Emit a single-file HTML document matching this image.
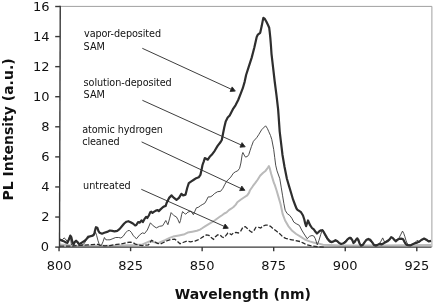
<!DOCTYPE html>
<html><head><meta charset="utf-8"><style>
html,body{margin:0;padding:0;background:#fff;}
body{width:433px;height:304px;overflow:hidden;position:relative;}
svg{position:absolute;left:0;top:0;}
text{font-family:"DejaVu Sans","Liberation Sans",sans-serif;fill:#111;}
.tk text{font-size:13px;}
.lg text{font-size:9.7px;}
.ttl{font-size:14px;font-weight:bold;}
</style></head><body>
<svg width="433" height="304" viewBox="0 0 433 304">
<g fill="none" stroke="#a0a0a0" stroke-width="1.0">
<polyline points="60.5,6.4 431.9,6.4 431.9,247.1"/>
</g>
<polyline points="59.8,244.5 70,245.3 80,245.7 95,245.8 110,245.7 120,245.4 135,245 142.5,244.4 150,241.2 154.6,242.3 158.1,243.2 161.5,241.7 165,240.2 169.6,237.9 173.1,236.6 178.9,235.4 184.6,234.2 187.7,232.6 192.3,231.7 196.9,230.8 200,229.6 202.5,228 205,226.3 209.9,223.4 214.9,220.3 219.7,216.8 222,215.2 224.3,213.5 226.6,212.4 228.9,210.1 231.2,208.7 233.5,207 235.8,204.6 237.3,202.3 240.6,199.8 243.9,197.5 247.2,195.4 249.1,192.6 250,190.2 252.8,186.2 255.5,182.7 257.8,179.5 260.1,175.8 262.9,173 265.7,170.7 268,167.5 268.9,166.1 269.8,168.4 271.2,174 272.6,178.6 274,183.2 274.7,184.6 276.6,190.5 278.6,197.4 280.6,204.3 282.7,214.2 285.1,220.5 288.3,226.1 292.2,230.8 296.2,234 300.1,236.3 304.9,239.5 309.6,241.4 314.3,242.7 318,243.4 323,244.7 340,245.5 380,245.5 431,245" fill="none" stroke="#bababa" stroke-width="2.0" stroke-linejoin="round"/>
<polyline points="59.8,246.2 72,246.2 79.7,245.4 84,245.2 88,244.9 92,244.6 96,244.3 98,244.3 100.2,245.2 105,245.8 110,245.6 113.5,244.8 116.9,244.4 120.4,244.1 123.9,243.3 127.3,242.5 130.2,242.1 133.1,242.7 135.4,244.1 138.9,245 142.3,245.6 148.5,244.8 151.5,240.3 154.5,241.8 157.5,243.3 160.5,244 163.5,242.5 166.5,241 171,239.5 174.8,239.2 177,241 180,243.7 183,242.5 186.8,241 190.6,241.8 195,241.1 197.9,239.9 200.8,238.2 203.7,236.4 206.5,234.9 208.9,235.3 211.2,237.6 213.5,239.3 215.2,237 217.5,234.9 219.8,234.7 222.1,237 223.9,237.6 225.6,235.9 227.9,233 229.6,233.5 231.4,234.7 233.7,233 236,232.4 238.3,233 240.6,231.2 242.9,227.2 245.3,226.6 247.6,228.7 249.7,230.8 251.8,232.2 253.9,230.8 255.9,227.3 258.7,227.3 260.8,228 262.9,225.9 265.6,225.2 268.4,225.2 270.5,226.3 273.2,228.7 276,230.8 278.8,232.9 280.9,234.9 282.9,237 285.7,238.4 288.5,239.1 291.9,239.8 295.4,240.5 300,241.5 303.5,243.2 306.9,244.9 312,245.9 318,246.8 324,247.1" fill="none" stroke="#2a2a2a" stroke-width="1.3" stroke-dasharray="4.4 1.8"/>
<polyline points="59.8,238.9 62.3,239.9 64,237.9 65.4,238.9 67.2,241.6 69.5,237 70.3,235.5 71.4,244.9 73,243 75.1,240.7 76.5,241.5 78.3,244.4 80.2,245.3 82,244.9 83.9,243.9 85.7,241.2 87.5,236.1 89.4,236.1 91.2,235.6 93.1,234.7 94.9,233.8 95.6,232.3 96.7,235.7 97.9,240.3 99.6,245.5 101.3,245.5 103.1,241.5 104.4,237.5 105.9,239.8 107.7,239.8 110,239.8 112.9,238.6 115.7,237.5 118.6,237.5 120.9,238 123.2,236.3 125.5,232.9 127.8,230.6 129.6,230.6 131.3,232.3 133,235.2 135,237.5 136.6,238.7 139.4,235.2 142.3,232.9 144.6,233.5 147.3,230 149,226.1 150.4,222.8 153.2,225.8 156.3,227.9 159.5,226.3 162.6,225.8 164.2,223.2 165.8,220.5 166.8,222.6 167.9,224.7 169.5,218.9 171.1,212.6 172.6,214.2 174.2,215.8 176.3,216.8 177.9,219.5 179.5,223.2 180.5,220.5 181.6,214.7 182.6,211.6 184.2,213.2 185.8,214.2 187.9,212.1 190.9,211.2 193.4,214.7 194.9,211.2 196.4,207.8 198.3,207.3 200.3,205.8 202.8,204.3 204.7,203.3 206.2,200.9 208.2,196.9 210.2,196.9 212.1,195.9 214.6,193.5 217.6,191.7 220.6,191.3 222.9,188.3 224.9,184.3 226.8,181.1 228.8,179.1 230.8,177.1 232.1,175.1 233.4,173.2 235.4,171.8 237.6,170.9 239.6,168.3 240.9,163 242.2,154.5 242.9,152.5 244.2,155.1 245.5,157.1 247.5,156.4 248.8,154.5 250.1,150.5 251.4,146.6 253.4,141.3 256.7,137.7 258.7,134.7 261.6,129.8 265.6,125.8 267.3,128.3 268.8,131.7 270.5,135.5 271.8,139.6 273.7,149.4 274.7,157.3 275.7,165.2 277,170.8 279.8,178.7 281.3,187.9 282.6,195.8 283.9,203.7 285.2,210.3 287.2,213.6 289.8,215.5 291.8,218.2 293.8,222.1 296.2,223.7 299.3,225.3 301.7,230 304.1,234 307.2,238.7 309.6,236.3 312,235.5 313.8,236 315.3,238.7 317.3,244.9 319,240.3 320.7,234.6 322.4,229.4 323.6,231.1 325.3,235.7 327.6,240.3 330,242.5 333,242 336,240.5 339,243 342,244 345,241 349,238.5 351.5,239.5 353.3,242.5 356.7,238.5 360,244.5 362.5,245 365,241.5 368,239.5 371,242 374,245 377,245 380,243 382.7,237.9 384.5,242 387.9,240 390.8,237.5 393.1,238.5 395.4,240 398.7,238.6 401,234.1 402.5,231.1 403.7,233.3 404.8,236.4 405.9,240.2 407,243.2 408.5,244.5 411,245.5 414,243.5 417.2,240.3 419.5,242 422,240 424.5,239 427,241 431,240.5" fill="none" stroke="#383838" stroke-width="0.9" stroke-linejoin="round"/>
<polyline points="59.8,239.8 62.2,240.7 64.5,241.6 66,242.5 67.4,242.8 68.9,239.6 70.3,235.6 71.4,237.4 72.5,242.5 73.6,244.6 74.7,242.1 76.1,240.7 77.6,242.1 79,243.9 80.5,243.5 82.6,242.1 84.8,240.7 87,238.5 88.4,237 90.6,236.3 92.8,235.6 93.8,234.9 94.6,232.3 95.3,229.4 96,227.2 97.3,227.7 98.5,231.1 99.7,232.8 102,233.7 104.3,232.8 107.1,231.9 109.9,230.5 112.2,230.9 114.5,231.4 117.2,230.9 119.5,229.1 121.9,226.3 124.2,223.5 126.5,221.7 128.3,221.2 130.6,222.2 132.9,223.5 135.2,225.5 136.3,225 138.1,222.1 139.8,222.6 141.5,220.3 142.9,222.1 144.4,219.2 146.1,216.9 147.3,218 149,215.2 150.2,212.3 151.3,211.7 152.5,212.9 154.2,211.7 155.9,210.6 157.6,210 158.8,211.1 160.5,209.4 162.3,207.7 164,206.5 165.7,205.9 166.6,203 169.1,197.9 171.6,195.4 174,197.9 176.5,199.9 179,197.9 181.4,193.8 183.1,195.4 185.6,194.6 187.2,188 188.8,183.1 191.3,181.4 193.8,179.8 196.2,178.2 198.7,177.3 200.4,174.9 201.5,169.9 202.5,165 203.8,161.3 204.8,158.1 206.2,158.7 207.8,159.7 209.7,156.8 211.7,154.8 214.7,150.8 217.6,145.9 220.6,142 221.8,140 223.1,133.3 224.3,127.3 225.7,121.4 227.7,117.5 229.7,115.5 231.6,111.8 232.9,109.2 235.5,105.3 238.2,100 240.8,93.4 242.8,88.2 244.7,81.6 246.1,75 248.7,66.9 251.7,57.6 254.4,47.3 256.7,36.9 257.9,34.6 260.2,32.8 261.7,26.1 262.8,20.4 263.4,17.8 264.6,18.6 266.3,21.5 268,25 269.2,27.8 269.7,31.9 270.3,37.6 270.9,45 271.5,53.8 273.1,67.6 274.7,81.5 276.5,95.3 278.1,109.1 278.6,115.8 279.7,131.6 281.6,147.4 282.5,155 284.5,166.8 286.9,178.7 289.2,186.6 291.2,193.2 293.1,199.7 295.1,205 296.5,208.5 297.5,209.8 299.1,210.9 301,212.2 303,215.5 304.3,219.5 305.2,223.5 306.1,226.1 308,220.5 310.1,225.2 312,228 313.8,229.4 315.7,232.1 317,233.5 318.9,231.7 320.7,230.3 322.6,230.3 324,232.6 325.3,234.9 327.2,238.1 329,240.4 330.5,241.6 331.9,242.1 333.7,241.2 335.5,240.2 337.4,241.2 339.2,243 341.1,243.9 342.9,243.5 344.8,242.5 346.2,241.2 347.5,239.3 349.4,237.9 350.8,237.9 352.2,239.8 353.5,243 354.9,241.6 356.3,239.3 357.3,238.3 358.4,239.8 359.6,243.5 361,245.6 362.8,244.9 364.7,242.1 366.5,239.8 368.4,238.9 370.2,239.8 372.1,242.1 373.9,244.9 375.8,245.6 377.6,244.9 379.5,243.9 381.3,244.4 382.8,243.9 385.1,242.4 387.4,241.3 389.6,239.4 391.2,237.1 392.7,237.9 394.2,239.8 395.7,241.3 397.2,240.2 398.7,239 401,238.6 402.9,239 404,240.9 405.2,243.2 406.3,244.7 408,245.1 410.3,245.4 412.6,244.3 414.9,243.2 417.2,242.6 419.5,241.5 421.8,239.7 424.1,238.6 426.4,239.7 428.7,241.5 431,240.9" fill="none" stroke="#2e2e2e" stroke-width="2.2" stroke-linejoin="round"/>
<g stroke="#383838" stroke-width="1.4" fill="none">
<line x1="60.25" y1="5.8" x2="59.5" y2="247.8"/>
<line x1="59" y1="247.1" x2="431.5" y2="247.1"/>
<line x1="55.2" y1="247.10" x2="60" y2="247.10"/><line x1="55.2" y1="217.03" x2="60" y2="217.03"/><line x1="55.2" y1="186.95" x2="60" y2="186.95"/><line x1="55.2" y1="156.88" x2="60" y2="156.88"/><line x1="55.2" y1="126.80" x2="60" y2="126.80"/><line x1="55.2" y1="96.72" x2="60" y2="96.72"/><line x1="55.2" y1="66.65" x2="60" y2="66.65"/><line x1="55.2" y1="36.57" x2="60" y2="36.57"/><line x1="55.2" y1="6.50" x2="60" y2="6.50"/><line x1="59.05" y1="247.1" x2="59.05" y2="251.2"/><line x1="130.60" y1="247.1" x2="130.60" y2="251.2"/><line x1="202.15" y1="247.1" x2="202.15" y2="251.2"/><line x1="273.70" y1="247.1" x2="273.70" y2="251.2"/><line x1="345.25" y1="247.1" x2="345.25" y2="251.2"/><line x1="416.80" y1="247.1" x2="416.80" y2="251.2"/>
</g>
<g stroke="#333" stroke-width="0.95" fill="#1a1a1a">
<line x1="142.3" y1="48.3" x2="232.03" y2="89.59"/><polygon points="235.30,91.10 230.08,91.45 232.17,86.91"/><line x1="142.4" y1="100.3" x2="241.92" y2="145.32"/><polygon points="245.20,146.80 239.98,147.18 242.04,142.63"/><line x1="141.6" y1="141.9" x2="241.64" y2="188.77"/><polygon points="244.90,190.30 239.67,190.61 241.80,186.08"/><line x1="141.3" y1="189.3" x2="225.01" y2="226.73"/><polygon points="228.30,228.20 223.08,228.60 225.12,224.04"/>
</g>
<g class="tk"><text x="49.0" y="251.40" text-anchor="end">0</text><text x="49.6" y="221.33" text-anchor="end">2</text><text x="49.6" y="191.25" text-anchor="end">4</text><text x="49.6" y="161.18" text-anchor="end">6</text><text x="49.6" y="131.10" text-anchor="end">8</text><text x="49.6" y="101.02" text-anchor="end">10</text><text x="49.6" y="70.95" text-anchor="end">12</text><text x="49.6" y="40.87" text-anchor="end">14</text><text x="49.6" y="10.80" text-anchor="end">16</text><text x="59.05" y="270.2" text-anchor="middle">800</text><text x="130.60" y="270.2" text-anchor="middle">825</text><text x="202.15" y="270.2" text-anchor="middle">850</text><text x="273.70" y="270.2" text-anchor="middle">875</text><text x="345.25" y="270.2" text-anchor="middle">900</text><text x="416.80" y="270.2" text-anchor="middle">925</text></g>
<g class="lg">
<text x="84" y="37.2" letter-spacing="-0.1">vapor-deposited</text>
<text x="83.6" y="50.1">SAM</text>
<text x="83.6" y="85.5" letter-spacing="-0.09">solution-deposited</text>
<text x="83.6" y="97.6">SAM</text>
<text x="82.2" y="132.9" letter-spacing="-0.1">atomic hydrogen</text>
<text x="82.2" y="144.7" letter-spacing="-0.12">cleaned</text>
<text x="83.1" y="189.2">untreated</text>
</g>
<text class="ttl" x="242.8" y="298.9" text-anchor="middle">Wavelength (nm)</text>
<text class="ttl" transform="translate(12.8,129.4) rotate(-90)" text-anchor="middle">PL Intensity (a.u.)</text>
</svg>
</body></html>
